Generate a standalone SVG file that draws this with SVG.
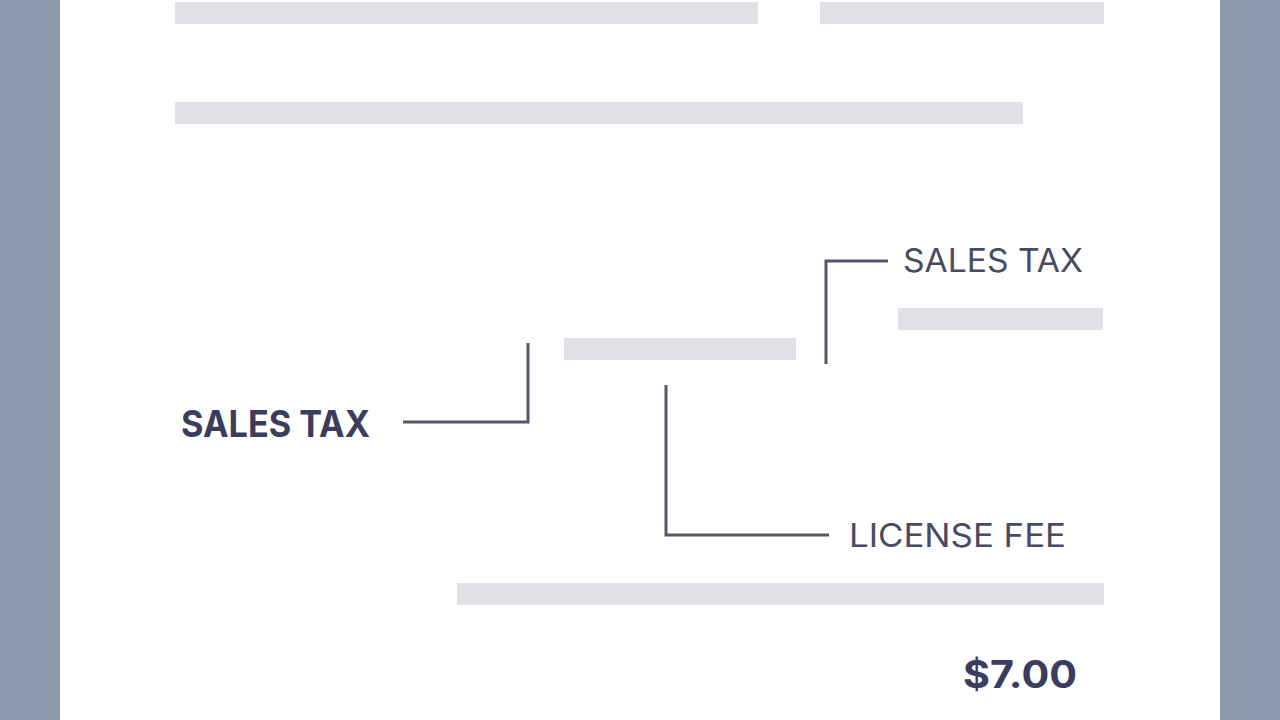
<svg xmlns="http://www.w3.org/2000/svg" width="1280" height="720" viewBox="0 0 1280 720">
<style>
.bar{fill:#dfe1e6}
.lbl{font-family:Inter,"Liberation Sans",Arial,sans-serif;fill:#4a4b62;font-size:32px}
.bold{font-family:Inter,"Liberation Sans",Arial,sans-serif;fill:#3b3d5e;font-weight:bold}
.conn{fill:none;stroke:#55566c;stroke-width:3}
</style>
<rect x="0" y="0" width="1280" height="720" fill="#8c99ad"/>
<rect x="60" y="0" width="1160" height="720" fill="#ffffff"/>
<g id="bars">
<rect class="bar" x="175" y="2" width="583" height="22"/>
<rect class="bar" x="820" y="2" width="284" height="22"/>
<rect class="bar" x="175" y="102" width="848" height="22"/>
<rect class="bar" x="564" y="338" width="232" height="22"/>
<rect class="bar" x="898" y="308" width="205" height="22"/>
<rect class="bar" x="457" y="583" width="647" height="22"/>
</g>
<g id="connectors">
<polyline class="conn" points="403,422 528,422 528,343"/>
<polyline class="conn" points="666,385 666,535 829,535"/>
<polyline class="conn" points="826,364 826,261 888,261"/>
</g>
<g id="label-sales-tax-left"><text class="bold" x="181" y="437" font-size="37" textLength="189" lengthAdjust="spacingAndGlyphs">SALES TAX</text></g>
<g id="label-sales-tax-right"><text class="lbl" x="903" y="272" textLength="180" lengthAdjust="spacingAndGlyphs">SALES TAX</text></g>
<g id="label-license-fee"><text class="lbl" x="849" y="547" textLength="217" lengthAdjust="spacingAndGlyphs">LICENSE FEE</text></g>
<g id="label-total"><text class="bold" x="963" y="688" font-size="38" textLength="114" lengthAdjust="spacingAndGlyphs">$7.00</text></g>
</svg>
